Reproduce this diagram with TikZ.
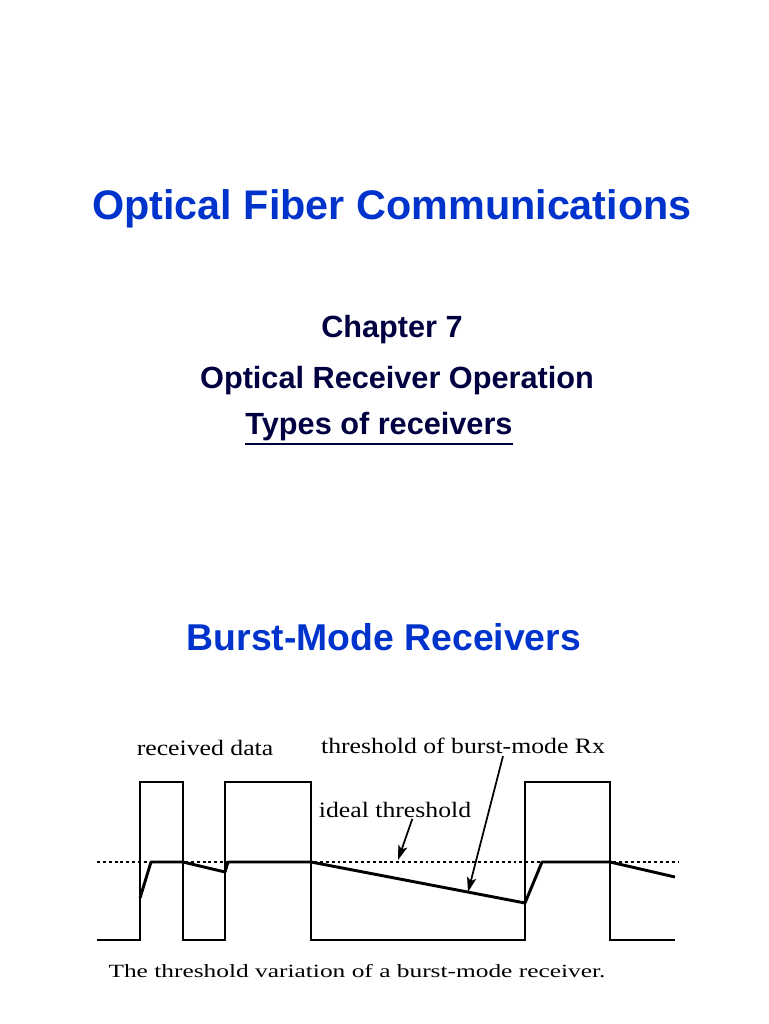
\documentclass[tikz,border=0pt]{standalone}
\usepackage{fontspec}
\setmainfont{Liberation Serif}
\newfontfamily\headfont{Liberation Sans}
\usepackage{tikz}
\usetikzlibrary{positioning,arrows.meta}
\definecolor{slideblue}{RGB}{0,51,204}
\definecolor{slidenavy}{RGB}{0,0,64}

\begin{document}
\begin{tikzpicture}[x=0.75pt, y=-0.75pt,
  title/.style={anchor=base, inner sep=0pt, text=slideblue,
                font=\headfont\bfseries\fontsize{31}{36}\selectfont},
  sub/.style={anchor=base, inner sep=0pt, text=slidenavy,
              font=\headfont\bfseries\fontsize{23}{27}\selectfont},
  lbl/.style={anchor=base, inner sep=0pt, xscale=1.17,
              font=\fontsize{16.5}{19}\selectfont},
  captext/.style={anchor=base, inner sep=0pt, xscale=1.36,
              font=\fontsize{14}{17}\selectfont},
  sig/.style={line width=1.6pt, line join=miter},
  thr/.style={line width=2.2pt, line join=round},
  ideal/.style={line width=1.8pt, dash pattern=on 2.2pt off 2.2pt},
  ar/.style={-{Stealth[length=11pt, width=7pt, inset=2.5pt]}, line width=1.3pt},
]
\useasboundingbox (0,0) rectangle (768,1024);

% headings
\node[title] (head)  at (392,219) {Optical Fiber Communications};
\node[sub]   (chap)  at (392,337) {Chapter 7};
\node[sub]   (oper)  at (397,388) {Optical Receiver Operation};
\node[sub]   (types) at (379,434) {Types of receivers};
\draw[slidenavy, line width=2.2pt] ([yshift=-2.5pt]types.south west) -- ([yshift=-2.5pt]types.south east);
\node[title, font=\headfont\bfseries\fontsize{28}{33}\selectfont]
             (burst) at (384,650) {Burst-Mode Receivers};

% labels of the figure
\node[lbl] (rxdata) at (205,755) {received data};
\node[lbl] (bmrx)   at (463,753) {threshold of burst-mode Rx};
\node[lbl] (idl)    at (395,817) {ideal threshold};
\node[captext] (caption) at (357,977) {The threshold variation of a burst-mode receiver.};

% received data
\draw[sig] (97,940) -- (140,940) -- (140,782) -- (183,782) -- (183,940)
  -- (225,940) -- (225,782) -- (311,782) -- (311,940) -- (525,940)
  -- (525,782) -- (610,782) -- (610,940) -- (675,940);

% ideal threshold
\draw[ideal] (97,862) -- (678,862);

% threshold of the burst-mode receiver
\draw[thr] (140,898) -- (151,862) -- (183,862) -- (225,872) -- (228,862)
  -- (311,862) -- (525,903) -- (542,862) -- (610,862) -- (675,877);

\coordinate (idltip) at (398,860);
\coordinate (bmtip)  at (468,892);
\draw[ar] ([xshift=13pt, yshift=-1pt]idl.south) -- (idltip);
\draw[ar] ([xshift=30pt, yshift=-2pt]bmrx.south) -- (bmtip);
\end{tikzpicture}
\end{document}
